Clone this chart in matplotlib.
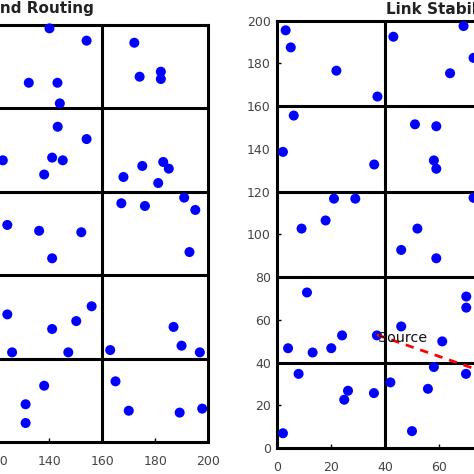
import matplotlib
matplotlib.use("Agg")
import matplotlib.pyplot as plt

plt.rcParams['font.family'] = ['DejaVu Sans']

# Left panel: node positions (x, y)
left_x = [140.1, 154.1, 132.3, 143.1, 144.0, 172.1, 174.1, 182.1, 182.1,
          143.2, 154.1, 122.5, 141.1, 145.1, 138.1, 175.1, 183.0, 185.1,
          168.0, 181.1, 167.2, 176.1, 190.9, 195.1, 124.2, 136.2, 152.1,
          141.1, 192.9, 124.2, 126.0, 141.1, 150.2, 156.0, 147.2, 163.0,
          186.9, 189.9, 196.8, 165.0, 170.0, 189.2, 197.7, 138.1, 131.1, 131.1]
left_y = [198.4, 192.5, 172.3, 172.3, 162.4, 191.5, 175.2, 177.6, 174.1,
          151.2, 145.3, 135.1, 136.4, 135.1, 128.3, 132.4, 134.3, 131.1,
          127.1, 124.2, 114.5, 113.2, 117.2, 111.3, 104.1, 101.3, 100.6,
          88.1, 91.1, 61.2, 43.0, 54.2, 58.0, 65.1, 43.0, 44.1,
          55.2, 46.2, 43.0, 29.1, 15.0, 14.1, 16.0, 27.0, 18.1, 9.1]

# Right panel: node positions (x, y)
right_x = [3.2, 5.1, 22.0, 37.2, 43.1, 69.1, 72.8, 64.1, 6.2, 2.2, 36.0,
           51.1, 59.0, 58.1, 59.0, 21.1, 29.0, 18.0, 9.1, 52.0, 72.8,
           46.0, 59.0, 11.1, 70.1, 70.1, 46.0, 24.1, 37.0, 61.2, 4.1,
           13.2, 20.1, 8.0, 58.1, 70.0, 42.0, 55.9, 26.3, 24.9, 35.9, 50.0, 2.2]
right_y = [195.5, 187.5, 176.6, 164.5, 192.5, 197.5, 182.6, 175.4, 155.6, 138.6, 132.7,
           151.5, 150.6, 134.6, 130.7, 116.7, 116.7, 106.5, 102.7, 102.7, 117.1,
           92.7, 88.8, 72.8, 70.9, 65.7, 56.9, 52.7, 52.7, 49.9, 46.7,
           44.7, 46.7, 34.7, 37.9, 34.7, 30.7, 27.7, 26.8, 22.6, 25.7, 7.9, 6.9]

# Route from source
route_x = [37.0, 100.0]
route_y = [53.0, 25.3]
source_label = "Source"

grid_step = 40
xlim = (0, 200)
ylim = (0, 200)
ticks = [0, 20, 40, 60, 80, 100, 120, 140, 160, 180, 200]

W = H = 474
fig = plt.figure(figsize=(4.74, 4.74), dpi=100)

def px_rect(l, r, t, b):
    return [l / W, (H - b) / H, (r - l) / W, (b - t) / H]

axL = fig.add_axes(px_rect(-322, 208.3, 25, 442))
axR = fig.add_axes(px_rect(277, 817, 20.7, 448))

for ax in (axL, axR):
    ax.set_xlim(*xlim)
    ax.set_ylim(*ylim)
    ax.set_xticks(ticks)
    ax.set_yticks(ticks)
    for g in range(grid_step, 200, grid_step):
        ax.axvline(g, color='black', lw=2.2, zorder=2)
        ax.axhline(g, color='black', lw=2.2, zorder=2)
    for s in ax.spines.values():
        s.set_linewidth(2.2)
        s.set_zorder(2.5)
    ax.tick_params(direction='in', length=3, width=1, labelsize=9,
                   labelcolor='#444444')
    ax.tick_params(axis='x', pad=9.5)
    ax.tick_params(axis='y', pad=4.5)

axL.scatter(left_x, left_y, s=52, color='#0000ff', zorder=4, clip_on=False,
            edgecolors='none')
axR.scatter(right_x, right_y, s=52, color='#0000ff', zorder=4, clip_on=False,
            edgecolors='none')
axR.plot(route_x, route_y, color='red', lw=2, ls=(0, (3, 2.5)), zorder=5)
axR.text(37.5, 51.5, source_label, fontsize=10.3, va='center', ha='left',
         color='#111111', zorder=6)

fig.text(94 / W, 1 - 13.5 / H, "Cluster Formation and Routing", ha='right',
         va='baseline', fontsize=11, fontweight='bold', color='#222222')
fig.text(386 / W, 1 - 14 / H, "Link Stability Based Routing", ha='left',
         va='baseline', fontsize=11, fontweight='bold', color='#222222')

fig.savefig('out.png', dpi=100)
